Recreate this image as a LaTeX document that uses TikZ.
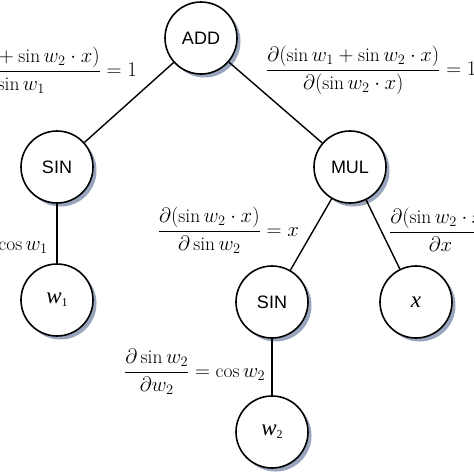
\documentclass[tikz,border=0pt]{standalone}
\usepackage{fontspec}
\newfontfamily\nodesans{Liberation Sans}
\newfontfamily\nodeserif{Liberation Serif}
\usetikzlibrary{shadows}
\definecolor{shadowc}{RGB}{128,142,172}
\begin{document}
\begin{tikzpicture}[
  x=1pt,y=-1pt,
  op/.style={circle, draw, line width=1.6pt, fill=white, minimum size=72pt, inner sep=0pt,
    font=\nodesans\fontsize{18}{21}\selectfont,
    drop shadow={shadow xshift=3.5pt, shadow yshift=-3.5pt, fill=shadowc, opacity=0.8}},
  var/.style={op, font=\nodeserif\itshape\fontsize{23}{27}\selectfont},
  conn/.style={line width=1.4pt},
  lbl/.style={inner sep=0pt, font=\fontsize{19.5}{23}\selectfont}
]
\useasboundingbox (0,0) rectangle (474,474);
\node[op] (add) at (201,38) {ADD};
\node[op] (sinl) at (57,167) {SIN};
\node[op] (mul) at (350,167) {MUL};
\node[var] (w1) at (57,300) {w\raisebox{-0.3ex}{\upshape\fontsize{12}{14}\selectfont 1}};
\node[op] (sinr) at (272,302) {SIN};
\node[var] (xv) at (416,302) {x};
\node[var] (w2) at (272,432) {w\raisebox{-0.3ex}{\upshape\fontsize{12}{14}\selectfont 2}};
\draw[conn] (add) -- (sinl);
\draw[conn] (add) -- (mul);
\draw[conn] (sinl) -- (w1);
\draw[conn] (mul) -- (sinr);
\draw[conn] (mul) -- (xv);
\draw[conn] (sinr) -- (w2);
\node[lbl, anchor=east] (l1) at (137,70) {$\displaystyle\frac{\partial(\sin w_1+\sin w_2\cdot x)}{\partial\sin w_1}=1$};
\node[lbl, anchor=west] (l2) at (266,70) {$\displaystyle\frac{\partial(\sin w_1+\sin w_2\cdot x)}{\partial(\sin w_2\cdot x)}=1$};
\node[lbl, anchor=east] (l3) at (48,245) {$\displaystyle\frac{\partial\sin w_1}{\partial w_1}=\cos w_1$};
\node[lbl, anchor=east] (l4) at (299,230) {$\displaystyle\frac{\partial(\sin w_2\cdot x)}{\partial\sin w_2}=x$};
\node[lbl, anchor=west] (l5) at (389,230) {$\displaystyle\frac{\partial(\sin w_2\cdot x)}{\partial x}=\sin w_2$};
\node[lbl, anchor=west] (l6) at (124,372) {$\displaystyle\frac{\partial\sin w_2}{\partial w_2}=\cos w_2$};
\end{tikzpicture}
\end{document}
